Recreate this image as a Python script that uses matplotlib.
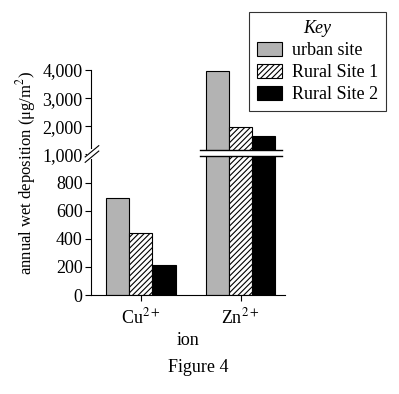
import matplotlib
matplotlib.use("Agg")
import matplotlib.pyplot as plt
import numpy as np
from matplotlib.patches import Patch, Rectangle

plt.rcParams['font.family'] = ['Liberation Serif', 'DejaVu Serif']
plt.rcParams['mathtext.fontset'] = 'stix'
plt.rcParams['hatch.linewidth'] = 0.8

ions = ["Cu$^{2+}$", "Zn$^{2+}$"]
series = ["urban site", "Rural Site 1", "Rural Site 2"]
urban = [690, 3960]
rural1 = [440, 1980]
rural2 = [210, 1650]
yticks = [0, 200, 400, 600, 800, 1000, 2000, 3000, 4000]
yticklabels = ["0", "200", "400", "600", "800", "1,000", "2,000", "3,000", "4,000"]

def fwd(y):
    y = np.asarray(y, dtype=float)
    return np.where(y <= 1000, y / 200.0, 5 + (y - 1000) / 1000.0)

def inv(u):
    u = np.asarray(u, dtype=float)
    return np.where(u <= 5, u * 200.0, 1000 + (u - 5) * 1000.0)

FS = 13
W, H = 399, 394
fig = plt.figure(figsize=(W / 100, H / 100), dpi=100)
ax = fig.add_axes([91 / W, (H - 295) / H, (285 - 91) / W, 225 / H])
ax.set_yscale('function', functions=(fwd, inv))

x = np.arange(len(ions))
w = 0.232
styles = [dict(facecolor='#b3b3b3', edgecolor='black'),
          dict(facecolor='white', edgecolor='black', hatch='//////'),
          dict(facecolor='black', edgecolor='black')]
for i, (vals, st) in enumerate(zip([urban, rural1, rural2], styles)):
    ax.bar(x + (i - 1) * w, vals, w, linewidth=0.8, zorder=2, **st)

ax.set_ylim(0, 4000)
ax.set_xlim(-0.497, 1.443)
ax.set_yticks(yticks)
ax.set_yticklabels(yticklabels)
ax.set_xticks(x)
ax.set_xticklabels(ions)
ax.tick_params(axis='both', labelsize=FS, length=4, width=0.8, color='black')
ax.tick_params(axis='y', pad=2)
ax.tick_params(axis='x', pad=5)
for s in ['top', 'right']:
    ax.spines[s].set_visible(False)
for s in ['left', 'bottom']:
    ax.spines[s].set_linewidth(0.8)
ax.minorticks_off()

# break in Zn bars
ax.add_patch(Rectangle((0.59, 990), 0.82, 150, facecolor='white', edgecolor='none', zorder=3, clip_on=False))
ax.plot([0.59, 1.41], [990, 990], color='black', lw=1.0, zorder=4, clip_on=False)
ax.plot([0.59, 1.41], [1140, 1140], color='black', lw=1.0, zorder=4, clip_on=False)

# break marks on y axis (axes fraction coordinates)
yb = (295 - 154) / 225
tr = ax.transAxes
ax.add_patch(Rectangle((-0.02, yb - 0.022), 0.04, 0.044, transform=tr, facecolor='white', edgecolor='none', zorder=5, clip_on=False))
for dy in (-0.012, 0.012):
    ax.plot([-0.03, 0.04], [yb + dy - 0.025, yb + dy + 0.025], transform=tr, color='black', lw=0.8, zorder=6, clip_on=False)

ax.set_ylabel("annual wet deposition (μg/m$^2$)", fontsize=12)
ax.yaxis.set_label_coords(-0.275, (295 - 173) / 225)
ax.set_xlabel("ion", fontsize=FS, labelpad=3)

fig.text(198 / W, 1 - 368 / H, "Figure 4", ha='center', va='center', fontsize=FS)

handles = [Patch(linewidth=0.8, **st) for st in styles]
leg = fig.legend(handles, series, loc='upper right', bbox_to_anchor=(386 / W, 1 - 12 / H),
                 frameon=True, fancybox=False, edgecolor='black', fontsize=FS,
                 title="Key", title_fontproperties={'style': 'italic', 'size': FS, 'family': 'Liberation Serif'},
                 handlelength=1.35, handleheight=0.85, handletextpad=0.55, labelspacing=0.25,
                 borderpad=0.45, borderaxespad=0)
leg.get_frame().set_linewidth(0.8)

fig.savefig("out.png", dpi=100)
